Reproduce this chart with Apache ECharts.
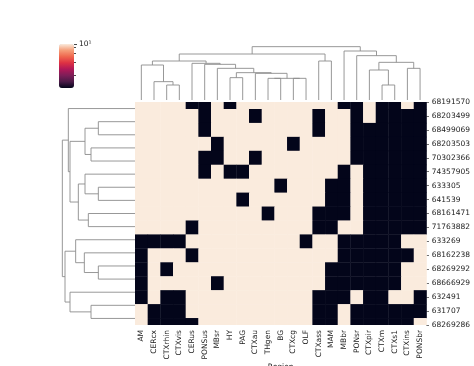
<!DOCTYPE html>
<html><head><meta charset="utf-8">
<script src="https://cdn.jsdelivr.net/npm/echarts@6/dist/echarts.min.js"></script>
<style>html,body{margin:0;padding:0;background:#fff}#c{width:474px;height:366px}</style>
</head><body><div id="c"></div>
<script>
// ---- data ----
const regions = ['AM','CERcx','CTXrhin','CTXvis','CERus','PONSus','MBsr','HY','PAG','CTXau','THgen','BG','CTXcg','OLF','CTXass','MAM','MBbr','PONsr','CTXpir','CTXm','CTXs1','CTXins','PONSbr'];
const samples = ['68191570','68203499','68499069','68203503','70302366','74357905','633305','641539','68161471','71763882','633269','68162238','68269292','68666929','632491','631707','68269286'];
const H = 10, L = 1.8;
const values = [
 [H,H,H,H,L,L,H,L,H,H,H,H,H,H,H,H,L,L,H,L,L,H,L],
 [H,H,H,H,H,L,H,H,H,L,H,H,H,H,L,H,H,L,H,L,L,L,L],
 [H,H,H,H,H,L,H,H,H,H,H,H,H,H,L,H,H,L,L,L,L,L,L],
 [H,H,H,H,H,H,L,H,H,H,H,H,L,H,H,H,H,L,L,L,L,L,L],
 [H,H,H,H,H,L,L,H,H,L,H,H,H,H,H,H,H,L,L,L,L,L,L],
 [H,H,H,H,H,L,H,L,L,H,H,H,H,H,H,H,L,H,L,L,L,L,L],
 [H,H,H,H,H,H,H,H,H,H,H,L,H,H,H,L,L,H,L,L,L,L,L],
 [H,H,H,H,H,H,H,H,L,H,H,H,H,H,H,L,L,H,L,L,L,L,L],
 [H,H,H,H,H,H,H,H,H,H,L,H,H,H,L,L,L,H,L,L,L,L,L],
 [H,H,H,H,L,H,H,H,H,H,H,H,H,H,L,L,H,H,L,L,L,L,L],
 [L,L,L,L,H,H,H,H,H,H,H,H,H,L,H,H,L,L,L,L,L,H,H],
 [L,H,H,H,L,H,H,H,H,H,H,H,H,H,H,H,L,L,L,L,L,L,H],
 [L,H,L,H,H,H,H,H,H,H,H,H,H,H,H,L,L,L,L,L,L,H,H],
 [L,H,H,H,H,H,L,H,H,H,H,H,H,H,H,L,L,L,L,L,L,H,H],
 [L,H,L,L,H,H,H,H,H,H,H,H,H,H,L,L,L,H,L,L,H,H,L],
 [H,L,L,L,H,H,H,H,H,H,H,H,H,H,L,L,H,L,L,L,L,L,L],
 [H,L,L,L,L,H,H,H,H,H,H,H,H,H,L,L,H,L,L,L,L,L,H]
];
// colorbar (log scale) range and its ticks
const cbarMin = 1.8, cbarMax = 10;
const cbarMajorTicks = [10];
const cbarMinorTicks = [3, 5, 7, 9];
// dendrogram linkages: [nodeA, nodeB, mergeHeight]; leaves are 0..n-1, merge j is node n+j
const colLinks = [
 [2,3,45],[1,23,55],[0,24,105],[7,8,67],[10,11,65],[12,13,65],[27,28,65],[9,29,80],
 [26,30,82],[6,31,95],[5,32,107],[4,33,110],[25,34,117],[14,15,117],[35,36,138],
 [19,20,45],[18,38,90],[21,22,95],[39,40,113],[17,41,133],[16,42,147],[37,43,160]
];
const rowLinks = [
 [1,2,110],[3,4,132],[17,18,150],[6,7,110],[5,20,150],[8,9,140],[21,22,170],[19,23,195],
 [0,24,200],[12,13,110],[11,26,152],[10,27,178],[15,16,132],[14,29,195],[28,30,210],[25,31,218]
];
const rocket = ['#03051A','#4A1B47','#7D1E58','#B11858','#DE3143','#EF674E','#F59E79','#FAEBDD'];

// ---- build ----
function dendroPaths(n, links, vertical) {
  const pos = [], hgt = [];
  for (let i = 0; i < n; i++) { pos.push(i + 0.5); hgt.push(0); }
  const out = [];
  links.forEach(([a, b, h]) => {
    const pts = [[pos[a], hgt[a]], [pos[a], h], [pos[b], h], [pos[b], hgt[b]]];
    out.push({ coords: vertical ? pts : pts.map(([p, v]) => [v, p]) });
    pos.push((pos[a] + pos[b]) / 2); hgt.push(h);
  });
  return out;
}
const cells = [];
values.forEach((row, r) => row.forEach((v, c) => cells.push([c, r, v])));
const cbarTicks = cbarMajorTicks.map(v => [1, Math.log10(v), 3])
  .concat(cbarMinorTicks.map(v => [1, Math.log10(v), 2]));

const FONT = 'DejaVu Sans';
const TXT = '#222';
const lmin = Math.log10(cbarMin), lmax = Math.log10(cbarMax);
const chart = echarts.init(document.getElementById('c'), null, { renderer: 'canvas' });
chart.setOption({
  animation: false,
  backgroundColor: '#fff',
  grid: [
    { left: 135, top: 102, width: 291.4, height: 223, outerBoundsMode: 'none' },
    { left: 135, top: 40, width: 291.4, height: 60, outerBoundsMode: 'none' },
    { left: 40, top: 102, width: 95, height: 223, outerBoundsMode: 'none' },
    { left: 59, top: 44, width: 15, height: 44, outerBoundsMode: 'none' }
  ],
  xAxis: [
    { gridIndex: 0, type: 'category', data: regions, position: 'bottom',
      axisLine: { show: false },
      axisTick: { alignWithLabel: true, length: 2.6, lineStyle: { color: '#333', width: 0.7 } },
      axisLabel: { rotate: 90, margin: 5, fontFamily: FONT, fontSize: 7.5, color: TXT, interval: 0 },
      name: 'Region', nameLocation: 'middle', nameGap: 38, nameMoveOverlap: false,
      nameTextStyle: { fontFamily: FONT, fontSize: 7.5, color: TXT } },
    { gridIndex: 1, type: 'value', min: 0, max: regions.length, show: false },
    { gridIndex: 2, type: 'value', min: 0, max: 285, inverse: true, show: false },
    { gridIndex: 3, type: 'value', min: 0, max: 1, show: false }
  ],
  yAxis: [
    { gridIndex: 0, type: 'value', min: 0, max: samples.length - 1, interval: 1, inverse: true, position: 'right',
      axisLine: { show: false }, splitLine: { show: false },
      axisTick: { show: true, length: 2.6, lineStyle: { color: '#333', width: 0.7 } },
      axisLabel: { margin: 5.4, fontFamily: FONT, fontSize: 7.5, color: TXT, formatter: v => samples[v] } },
    { gridIndex: 1, type: 'value', min: 0, max: 180, show: false },
    { gridIndex: 2, type: 'value', min: 0, max: samples.length, inverse: true, show: false },
    { gridIndex: 3, type: 'value', min: lmin, max: lmax, position: 'right',
      axisLine: { show: false }, splitLine: { show: false }, axisTick: { show: false },
      axisLabel: { show: true, customValues: cbarMajorTicks.map(Math.log10), margin: 5, fontFamily: FONT, fontSize: 7.5, color: TXT,
        formatter: () => '10¹' } }
  ],
  visualMap: {
    type: 'continuous', seriesIndex: 0, dimension: 2, min: cbarMin, max: cbarMax,
    left: 59, top: 44, itemWidth: 15, itemHeight: 44, padding: 0,
    calculable: false, text: null, showLabel: false, hoverLink: false,
    inRange: { color: rocket }
  },
  series: [
    { type: 'custom', xAxisIndex: 0, yAxisIndex: 0, clip: true, silent: true,
      encode: { x: 0, y: 1 }, data: cells,
      renderItem(params, api) {
        const p = api.coord([api.value(0), api.value(1)]);
        const s = api.size([1, 1]);
        return { type: 'rect',
          shape: { x: p[0] - s[0] / 2, y: p[1] - s[1] / 2, width: s[0] + 0.4, height: s[1] + 0.4 },
          style: { fill: api.visual('color') } };
      } },
    { type: 'lines', coordinateSystem: 'cartesian2d', xAxisIndex: 1, yAxisIndex: 1, polyline: true, silent: true,
      lineStyle: { color: '#8c8c8c', width: 0.9, opacity: 1 }, data: dendroPaths(regions.length, colLinks, true) },
    { type: 'lines', coordinateSystem: 'cartesian2d', xAxisIndex: 2, yAxisIndex: 2, polyline: true, silent: true,
      lineStyle: { color: '#8c8c8c', width: 0.9, opacity: 1 }, data: dendroPaths(samples.length, rowLinks, false) },
    { type: 'custom', xAxisIndex: 3, yAxisIndex: 3, clip: false, silent: true, z: 10,
      encode: { x: 0, y: 1 }, data: cbarTicks,
      renderItem(params, api) {
        const p = api.coord([api.value(0), api.value(1)]);
        const y = Math.round(p[1]) + 0.5;
        return { type: 'line', shape: { x1: p[0], y1: y, x2: p[0] + api.value(2), y2: y },
          style: { stroke: '#333', lineWidth: 0.9 } };
      } }
  ]
});
</script></body></html>
